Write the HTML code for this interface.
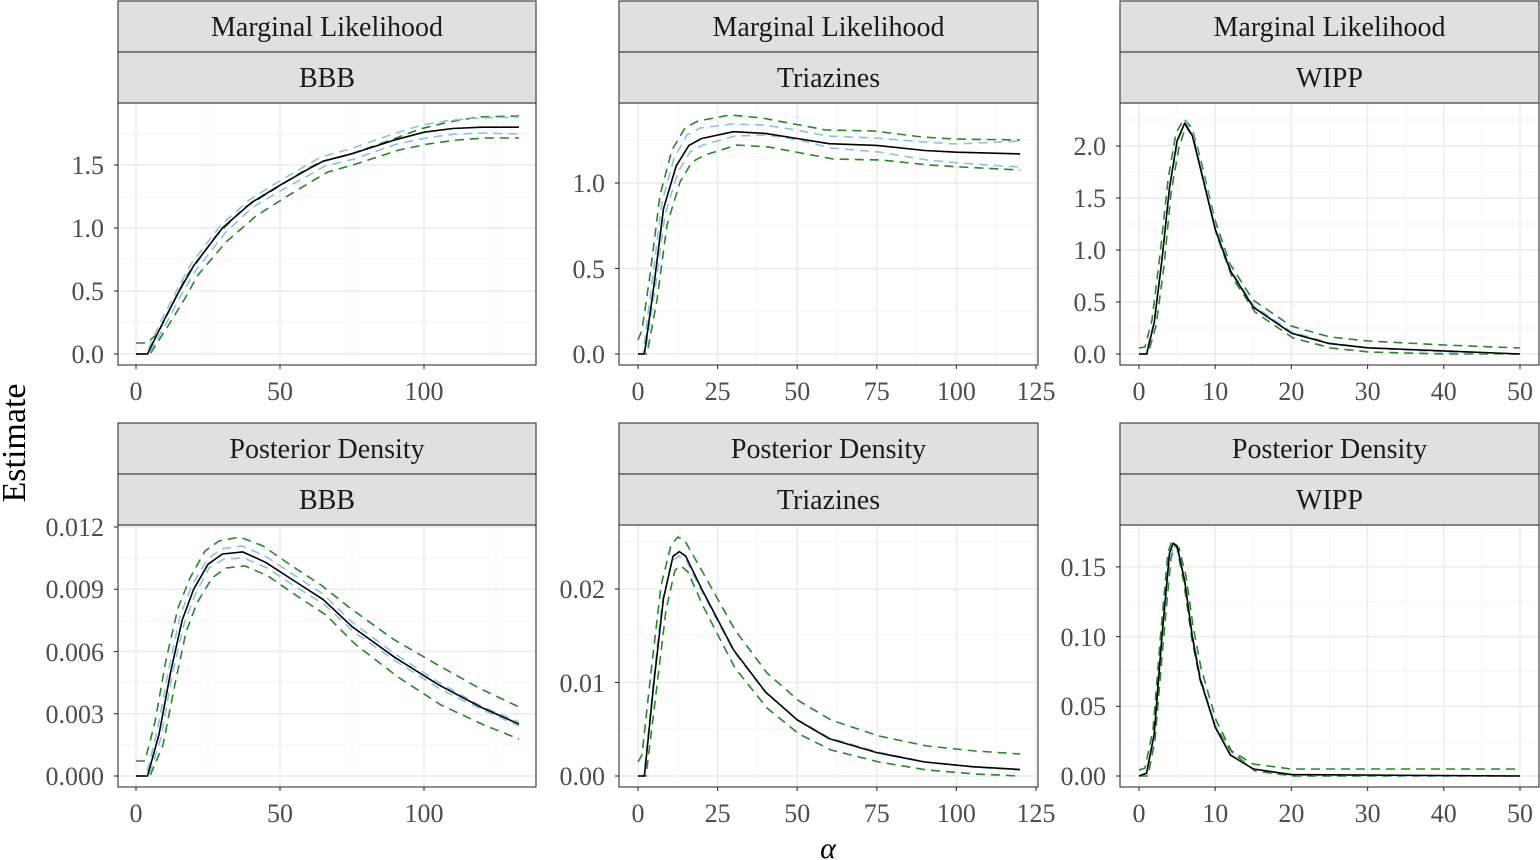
<!DOCTYPE html>
<html><head><meta charset="utf-8"><style>
html,body{margin:0;padding:0;background:#fff}
svg{display:block}
text{font-family:"Liberation Serif","DejaVu Serif",serif}
.tk{fill:#4d4d4d;font-size:26px}
.st{fill:#1a1a1a;font-size:28px}
.gM{stroke:#ebebeb;stroke-width:1.4}
.gm{stroke:#f4f4f4;stroke-width:0.9}
.bk{fill:none;stroke:#000;stroke-width:1.6;stroke-linejoin:round}
.gr{fill:none;stroke:#228b22;stroke-width:1.6;stroke-dasharray:9,6}
.bl{fill:none;stroke:#87c3ea;stroke-width:1.6;stroke-dasharray:9,6}
.fr{fill:none;stroke:#333;stroke-width:1.1}
.strip{fill:#e0e0e0;stroke:#333;stroke-width:1.1}
.ax{stroke:#333;stroke-width:1.1}
</style></head><body>
<svg width="1540" height="860" viewBox="0 0 1540 860" xmlns="http://www.w3.org/2000/svg">
<rect width="1540" height="860" fill="#fff"/>

<!-- ===== Panel 1: ML BBB ===== -->
<g>
<rect x="118" y="103" width="418" height="262" fill="#fff"/>
<g class="gm"><line x1="208" y1="103" x2="208" y2="365"/><line x1="352" y1="103" x2="352" y2="365"/><line x1="496" y1="103" x2="496" y2="365"/>
<line x1="118" y1="322.5" x2="536" y2="322.5"/><line x1="118" y1="259.5" x2="536" y2="259.5"/><line x1="118" y1="196.5" x2="536" y2="196.5"/><line x1="118" y1="133.5" x2="536" y2="133.5"/></g>
<g class="gM"><line x1="136" y1="103" x2="136" y2="365"/><line x1="280" y1="103" x2="280" y2="365"/><line x1="424" y1="103" x2="424" y2="365"/>
<line x1="118" y1="354" x2="536" y2="354"/><line x1="118" y1="291" x2="536" y2="291"/><line x1="118" y1="228" x2="536" y2="228"/><line x1="118" y1="165" x2="536" y2="165"/></g>
<polyline class="gr" points="136,343 147,343 158,333 172,305 186,277 216,236 244,208 273,190 302,172 320,162 348,155 391,140 420,129 449,122 478,117 519,116"/>
<polyline class="gr" points="136,354 150,354 168,326 184,300 198,275 226,242 256,216 286,197 314,180 328,172 356,164 399,150 428,144 457,140 486,138 519,138"/>
<polyline class="bl" points="136,354 146,354 162,319 177,290 191,264 220,226 249,200 278,182 307,165 321,157 350,149 393,134 422,125 451,120 480,118 519,117"/>
<polyline class="bl" points="136,354 149,354 167,322 181,295 196,270 225,233 253,207 282,190 311,174 325,166 354,159 397,144 426,138 455,134 484,133 519,134"/>
<polyline class="bk" points="136,354 147.5,354 164.8,318.7 179.2,291 193.6,265.8 222.4,228 251.2,202.8 280,185.2 308.8,168.8 323.2,161.2 352,153.7 395.2,139.8 424,132.2 452.8,128.5 481.6,127.2 519,127.2"/>
<rect class="fr" x="118" y="103" width="418" height="262"/>
<g class="ax"><line x1="114" y1="354" x2="118" y2="354"/><line x1="114" y1="291" x2="118" y2="291"/><line x1="114" y1="228" x2="118" y2="228"/><line x1="114" y1="165" x2="118" y2="165"/>
<line x1="136" y1="365" x2="136" y2="369"/><line x1="280" y1="365" x2="280" y2="369"/><line x1="424" y1="365" x2="424" y2="369"/></g>
<g class="tk" text-anchor="end"><text x="104" y="363">0.0</text><text x="104" y="300">0.5</text><text x="104" y="237">1.0</text><text x="104" y="174">1.5</text></g>
<g class="tk" text-anchor="middle"><text x="136" y="400">0</text><text x="280" y="400">50</text><text x="424" y="400">100</text></g>
<rect class="strip" x="118" y="1" width="418" height="51"/><rect class="strip" x="118" y="52" width="418" height="51"/>
<g class="st" text-anchor="middle"><text x="327" y="36">Marginal Likelihood</text><text x="327" y="87">BBB</text></g>
</g>

<!-- ===== Panel 2: ML Triazines ===== -->
<g>
<rect x="619" y="103" width="419" height="262" fill="#fff"/>
<g class="gm"><line x1="677.8" y1="103" x2="677.8" y2="365"/><line x1="757.4" y1="103" x2="757.4" y2="365"/><line x1="837" y1="103" x2="837" y2="365"/><line x1="916.6" y1="103" x2="916.6" y2="365"/><line x1="996.2" y1="103" x2="996.2" y2="365"/>
<line x1="619" y1="311.2" x2="1038" y2="311.2"/><line x1="619" y1="225.7" x2="1038" y2="225.7"/><line x1="619" y1="140.2" x2="1038" y2="140.2"/></g>
<g class="gM"><line x1="638" y1="103" x2="638" y2="365"/><line x1="717.6" y1="103" x2="717.6" y2="365"/><line x1="797.2" y1="103" x2="797.2" y2="365"/><line x1="876.8" y1="103" x2="876.8" y2="365"/><line x1="956.4" y1="103" x2="956.4" y2="365"/><line x1="1036" y1="103" x2="1036" y2="365"/>
<line x1="619" y1="354" x2="1038" y2="354"/><line x1="619" y1="268.5" x2="1038" y2="268.5"/><line x1="619" y1="183" x2="1038" y2="183"/></g>
<polyline class="gr" points="638,340 642,330 650,275 660,195 672,150 685,128 698,121 730,115 762,118 794,124 826,130 874,131 922,137 954,139 1020,140"/>
<polyline class="gr" points="638,354 647,354 657,300 667,225 680,182 692,162 705,155 737,145 769,147 801,153 833,159 881,160 929,165 961,167 1020,170"/>
<polyline class="bl" points="638,354 643,354 652,282 662,202 674,158 687,135 700,128 732,124 764,125 796,130 828,136 876,138 924,142 956,144 1020,141"/>
<polyline class="bl" points="638,354 645,354 655,290 665,215 678,172 690,152 703,145 735,136 767,135 799,140 831,148 879,152 927,160 959,163 1020,167"/>
<polyline class="bk" points="638,354 644.4,354 653.9,285.6 663.5,208.7 676.2,165.9 688.9,145.4 701.7,138.5 733.5,131.7 765.4,133.4 797.2,138.5 829,143.7 876.8,145.4 924.6,150.5 956.4,152.2 1020,153.9"/>
<rect class="fr" x="619" y="103" width="419" height="262"/>
<g class="ax"><line x1="615" y1="354" x2="619" y2="354"/><line x1="615" y1="268.5" x2="619" y2="268.5"/><line x1="615" y1="183" x2="619" y2="183"/>
<line x1="638" y1="365" x2="638" y2="369"/><line x1="717.6" y1="365" x2="717.6" y2="369"/><line x1="797.2" y1="365" x2="797.2" y2="369"/><line x1="876.8" y1="365" x2="876.8" y2="369"/><line x1="956.4" y1="365" x2="956.4" y2="369"/><line x1="1036" y1="365" x2="1036" y2="369"/></g>
<g class="tk" text-anchor="end"><text x="605" y="363">0.0</text><text x="605" y="278">0.5</text><text x="605" y="192">1.0</text></g>
<g class="tk" text-anchor="middle"><text x="638" y="400">0</text><text x="717.6" y="400">25</text><text x="797.2" y="400">50</text><text x="876.8" y="400">75</text><text x="956.4" y="400">100</text><text x="1036" y="400">125</text></g>
<rect class="strip" x="619" y="1" width="419" height="51"/><rect class="strip" x="619" y="52" width="419" height="51"/>
<g class="st" text-anchor="middle"><text x="828.5" y="36">Marginal Likelihood</text><text x="828.5" y="87">Triazines</text></g>
</g>

<!-- ===== Panel 3: ML WIPP ===== -->
<g>
<rect x="1120" y="103" width="419" height="262" fill="#fff"/>
<g class="gm"><line x1="1177.1" y1="103" x2="1177.1" y2="365"/><line x1="1253.3" y1="103" x2="1253.3" y2="365"/><line x1="1329.5" y1="103" x2="1329.5" y2="365"/><line x1="1405.7" y1="103" x2="1405.7" y2="365"/><line x1="1481.9" y1="103" x2="1481.9" y2="365"/>
<line x1="1120" y1="328" x2="1539" y2="328"/><line x1="1120" y1="276" x2="1539" y2="276"/><line x1="1120" y1="224" x2="1539" y2="224"/><line x1="1120" y1="172" x2="1539" y2="172"/><line x1="1120" y1="120" x2="1539" y2="120"/></g>
<g class="gM"><line x1="1139" y1="103" x2="1139" y2="365"/><line x1="1215.2" y1="103" x2="1215.2" y2="365"/><line x1="1291.4" y1="103" x2="1291.4" y2="365"/><line x1="1367.6" y1="103" x2="1367.6" y2="365"/><line x1="1443.8" y1="103" x2="1443.8" y2="365"/><line x1="1520" y1="103" x2="1520" y2="365"/>
<line x1="1120" y1="354" x2="1539" y2="354"/><line x1="1120" y1="302" x2="1539" y2="302"/><line x1="1120" y1="250" x2="1539" y2="250"/><line x1="1120" y1="198" x2="1539" y2="198"/><line x1="1120" y1="146" x2="1539" y2="146"/></g>
<polyline class="gr" points="1139,348 1145,347 1152,320 1160,255 1168,180 1176,133 1184,119 1192,128 1200,157 1215,220 1230,264 1253,300 1291,326 1330,337 1368,341 1444,345 1520,348"/>
<polyline class="gr" points="1139,354 1148,354 1156,326 1164,266 1171,193 1179,147 1186,126 1194,140 1202,174 1217,236 1232,277 1255,312 1293,338 1331,348 1369,352 1444,354 1520,354"/>
<polyline class="bl" points="1139,354 1146,354 1154,322 1162,258 1170,186 1178,140 1186,122 1193,134 1201,166 1216,228 1231,270 1254,306 1292,332 1330,343 1368,348 1444,352 1520,354"/>
<polyline class="bk" points="1139,354 1146.6,354 1154.2,322.8 1161.9,260.4 1169.5,187.6 1177.1,140.8 1184.7,123.1 1192.3,135.6 1200,166.8 1215.2,229.2 1230.4,270.8 1253.3,307.2 1291.4,333.2 1329.5,343.6 1367.6,347.8 1443.8,350.9 1520,354"/>
<rect class="fr" x="1120" y="103" width="419" height="262"/>
<g class="ax"><line x1="1116" y1="354" x2="1120" y2="354"/><line x1="1116" y1="302" x2="1120" y2="302"/><line x1="1116" y1="250" x2="1120" y2="250"/><line x1="1116" y1="198" x2="1120" y2="198"/><line x1="1116" y1="146" x2="1120" y2="146"/>
<line x1="1139" y1="365" x2="1139" y2="369"/><line x1="1215.2" y1="365" x2="1215.2" y2="369"/><line x1="1291.4" y1="365" x2="1291.4" y2="369"/><line x1="1367.6" y1="365" x2="1367.6" y2="369"/><line x1="1443.8" y1="365" x2="1443.8" y2="369"/><line x1="1520" y1="365" x2="1520" y2="369"/></g>
<g class="tk" text-anchor="end"><text x="1106" y="363">0.0</text><text x="1106" y="311">0.5</text><text x="1106" y="259">1.0</text><text x="1106" y="207">1.5</text><text x="1106" y="155">2.0</text></g>
<g class="tk" text-anchor="middle"><text x="1139" y="400">0</text><text x="1215.2" y="400">10</text><text x="1291.4" y="400">20</text><text x="1367.6" y="400">30</text><text x="1443.8" y="400">40</text><text x="1520" y="400">50</text></g>
<rect class="strip" x="1120" y="1" width="419" height="51"/><rect class="strip" x="1120" y="52" width="419" height="51"/>
<g class="st" text-anchor="middle"><text x="1329.5" y="36">Marginal Likelihood</text><text x="1329.5" y="87">WIPP</text></g>
</g>

<!-- ===== Panel 4: PD BBB ===== -->
<g>
<rect x="118" y="525" width="418" height="262" fill="#fff"/>
<g class="gm"><line x1="208" y1="525" x2="208" y2="787"/><line x1="352" y1="525" x2="352" y2="787"/><line x1="496" y1="525" x2="496" y2="787"/>
<line x1="118" y1="744.9" x2="536" y2="744.9"/><line x1="118" y1="682.6" x2="536" y2="682.6"/><line x1="118" y1="620.4" x2="536" y2="620.4"/><line x1="118" y1="558.1" x2="536" y2="558.1"/></g>
<g class="gM"><line x1="136" y1="525" x2="136" y2="787"/><line x1="280" y1="525" x2="280" y2="787"/><line x1="424" y1="525" x2="424" y2="787"/>
<line x1="118" y1="776" x2="536" y2="776"/><line x1="118" y1="713.75" x2="536" y2="713.75"/><line x1="118" y1="651.5" x2="536" y2="651.5"/><line x1="118" y1="589.25" x2="536" y2="589.25"/><line x1="118" y1="527" x2="536" y2="527"/></g>
<polyline class="gr" points="136,761 145,761 155,722 166,660 178,608 190,578 205,551 219,541 240,537 263,546 292,566 321,585 350,608 393,639 436,664 479,688 519,707"/>
<polyline class="gr" points="136,776 150,776 163,745 175,684 186,632 197,603 212,578 226,568 245,566 268,576 297,596 326,615 355,644 398,677 441,705 484,725 519,739"/>
<polyline class="bl" points="136,776 146,776 157,732 169,668 180,616 192,585 207,560 221,549 242,546 265,556 294,575 323,594 352,622 395,654 438,682 481,706 519,722"/>
<polyline class="bl" points="136,776 149,776 161,738 172,676 184,624 195,595 209,568 224,559 244,558 267,568 296,587 325,605 354,632 397,662 440,689 483,710 519,726"/>
<polyline class="bk" points="136,776 147.5,776 159,734.5 170.6,672.2 182.1,620.4 193.6,589.3 208,564.3 222.4,554 242.6,551.9 265.6,562.3 294.4,581 323.2,599.6 352,626.6 395.2,657.7 438.4,684.7 481.6,707.5 519,724.1"/>
<rect class="fr" x="118" y="525" width="418" height="262"/>
<g class="ax"><line x1="114" y1="776" x2="118" y2="776"/><line x1="114" y1="713.75" x2="118" y2="713.75"/><line x1="114" y1="651.5" x2="118" y2="651.5"/><line x1="114" y1="589.25" x2="118" y2="589.25"/><line x1="114" y1="527" x2="118" y2="527"/>
<line x1="136" y1="787" x2="136" y2="791"/><line x1="280" y1="787" x2="280" y2="791"/><line x1="424" y1="787" x2="424" y2="791"/></g>
<g class="tk" text-anchor="end"><text x="104" y="785">0.000</text><text x="104" y="723">0.003</text><text x="104" y="661">0.006</text><text x="104" y="598">0.009</text><text x="104" y="536">0.012</text></g>
<g class="tk" text-anchor="middle"><text x="136" y="822">0</text><text x="280" y="822">50</text><text x="424" y="822">100</text></g>
<rect class="strip" x="118" y="423" width="418" height="51"/><rect class="strip" x="118" y="474" width="418" height="51"/>
<g class="st" text-anchor="middle"><text x="327" y="458">Posterior Density</text><text x="327" y="509">BBB</text></g>
</g>

<!-- ===== Panel 5: PD Triazines ===== -->
<g>
<rect x="619" y="525" width="419" height="262" fill="#fff"/>
<g class="gm"><line x1="677.8" y1="525" x2="677.8" y2="787"/><line x1="757.4" y1="525" x2="757.4" y2="787"/><line x1="837" y1="525" x2="837" y2="787"/><line x1="916.6" y1="525" x2="916.6" y2="787"/><line x1="996.2" y1="525" x2="996.2" y2="787"/>
<line x1="619" y1="729.2" x2="1038" y2="729.2"/><line x1="619" y1="635.7" x2="1038" y2="635.7"/><line x1="619" y1="542" x2="1038" y2="542"/></g>
<g class="gM"><line x1="638" y1="525" x2="638" y2="787"/><line x1="717.6" y1="525" x2="717.6" y2="787"/><line x1="797.2" y1="525" x2="797.2" y2="787"/><line x1="876.8" y1="525" x2="876.8" y2="787"/><line x1="956.4" y1="525" x2="956.4" y2="787"/><line x1="1036" y1="525" x2="1036" y2="787"/>
<line x1="619" y1="776" x2="1038" y2="776"/><line x1="619" y1="682.5" x2="1038" y2="682.5"/><line x1="619" y1="589" x2="1038" y2="589"/></g>
<polyline class="gr" points="638,762 642,755 651,672 661,586 671,545 678,537 685,541 702,571 735,630 767,673 799,701 831,720 879,736 927,746 975,751 1020,754"/>
<polyline class="gr" points="638,776 646,776 656,694 666,610 675,570 681,566 688,572 703,606 735,668 767,708 799,734 831,750 879,762 927,770 975,774 1020,776"/>
<polyline class="bl" points="638,776 644,776 653,686 662,603 672,561 679,556 686,560 702,592 734,652 766,693 798,720 830,738 878,752 926,762 974,767 1020,770"/>
<polyline class="bk" points="638,776 644.4,776 653.9,682.5 663.5,598.4 673,556.3 679.4,551.6 685.8,556.3 701.7,589 733.5,649.8 765.4,691.9 797.2,719.9 829,738.6 876.8,752.6 924.6,762 972.3,766.7 1020,769.5"/>
<rect class="fr" x="619" y="525" width="419" height="262"/>
<g class="ax"><line x1="615" y1="776" x2="619" y2="776"/><line x1="615" y1="682.5" x2="619" y2="682.5"/><line x1="615" y1="589" x2="619" y2="589"/>
<line x1="638" y1="787" x2="638" y2="791"/><line x1="717.6" y1="787" x2="717.6" y2="791"/><line x1="797.2" y1="787" x2="797.2" y2="791"/><line x1="876.8" y1="787" x2="876.8" y2="791"/><line x1="956.4" y1="787" x2="956.4" y2="791"/><line x1="1036" y1="787" x2="1036" y2="791"/></g>
<g class="tk" text-anchor="end"><text x="605" y="785">0.00</text><text x="605" y="692">0.01</text><text x="605" y="598">0.02</text></g>
<g class="tk" text-anchor="middle"><text x="638" y="822">0</text><text x="717.6" y="822">25</text><text x="797.2" y="822">50</text><text x="876.8" y="822">75</text><text x="956.4" y="822">100</text><text x="1036" y="822">125</text></g>
<rect class="strip" x="619" y="423" width="419" height="51"/><rect class="strip" x="619" y="474" width="419" height="51"/>
<g class="st" text-anchor="middle"><text x="828.5" y="458">Posterior Density</text><text x="828.5" y="509">Triazines</text></g>
</g>

<!-- ===== Panel 6: PD WIPP ===== -->
<g>
<rect x="1120" y="525" width="419" height="262" fill="#fff"/>
<g class="gm"><line x1="1177.1" y1="525" x2="1177.1" y2="787"/><line x1="1253.3" y1="525" x2="1253.3" y2="787"/><line x1="1329.5" y1="525" x2="1329.5" y2="787"/><line x1="1405.7" y1="525" x2="1405.7" y2="787"/><line x1="1481.9" y1="525" x2="1481.9" y2="787"/>
<line x1="1120" y1="741.2" x2="1539" y2="741.2"/><line x1="1120" y1="671.5" x2="1539" y2="671.5"/><line x1="1120" y1="601.8" x2="1539" y2="601.8"/><line x1="1120" y1="532" x2="1539" y2="532"/></g>
<g class="gM"><line x1="1139" y1="525" x2="1139" y2="787"/><line x1="1215.2" y1="525" x2="1215.2" y2="787"/><line x1="1291.4" y1="525" x2="1291.4" y2="787"/><line x1="1367.6" y1="525" x2="1367.6" y2="787"/><line x1="1443.8" y1="525" x2="1443.8" y2="787"/><line x1="1520" y1="525" x2="1520" y2="787"/>
<line x1="1120" y1="776" x2="1539" y2="776"/><line x1="1120" y1="706.3" x2="1539" y2="706.3"/><line x1="1120" y1="636.6" x2="1539" y2="636.6"/><line x1="1120" y1="566.9" x2="1539" y2="566.9"/></g>
<polyline class="gr" points="1139,770 1145,768 1153,730 1161,630 1168,552 1172,541 1177,548 1184,584 1192,640 1200,680 1215,725 1230,750 1253,764 1291,769 1520,769"/>
<polyline class="gr" points="1139,776 1148,776 1155,740 1163,645 1171,558 1175,546 1179,548 1186,576 1193,626 1201,668 1216,720 1232,752 1255,771 1293,776 1520,776"/>
<polyline class="bl" points="1139,776 1146,774 1154,736 1162,640 1170,556 1174,547 1178,550 1185,584 1193,638 1201,679 1216,727 1231,755 1254,769 1292,775 1520,776"/>
<polyline class="bk" points="1139,776 1146.6,773.2 1154.2,734.2 1161.9,636.6 1169.5,553 1173.3,543.2 1177.1,546 1184.7,580.8 1192.3,636.6 1200,678.4 1215.2,727.2 1230.4,755.1 1253.3,769 1291.4,774.6 1520,776"/>
<rect class="fr" x="1120" y="525" width="419" height="262"/>
<g class="ax"><line x1="1116" y1="776" x2="1120" y2="776"/><line x1="1116" y1="706.3" x2="1120" y2="706.3"/><line x1="1116" y1="636.6" x2="1120" y2="636.6"/><line x1="1116" y1="566.9" x2="1120" y2="566.9"/>
<line x1="1139" y1="787" x2="1139" y2="791"/><line x1="1215.2" y1="787" x2="1215.2" y2="791"/><line x1="1291.4" y1="787" x2="1291.4" y2="791"/><line x1="1367.6" y1="787" x2="1367.6" y2="791"/><line x1="1443.8" y1="787" x2="1443.8" y2="791"/><line x1="1520" y1="787" x2="1520" y2="791"/></g>
<g class="tk" text-anchor="end"><text x="1106" y="785">0.00</text><text x="1106" y="715">0.05</text><text x="1106" y="646">0.10</text><text x="1106" y="576">0.15</text></g>
<g class="tk" text-anchor="middle"><text x="1139" y="822">0</text><text x="1215.2" y="822">10</text><text x="1291.4" y="822">20</text><text x="1367.6" y="822">30</text><text x="1443.8" y="822">40</text><text x="1520" y="822">50</text></g>
<rect class="strip" x="1120" y="423" width="419" height="51"/><rect class="strip" x="1120" y="474" width="419" height="51"/>
<g class="st" text-anchor="middle"><text x="1329.5" y="458">Posterior Density</text><text x="1329.5" y="509">WIPP</text></g>
</g>

<text x="828" y="858" text-anchor="middle" font-size="30" font-style="italic" fill="#000">α</text>
<text x="0" y="0" transform="translate(25,443) rotate(-90)" text-anchor="middle" font-size="34" fill="#000">Estimate</text>
</svg>
</body></html>
